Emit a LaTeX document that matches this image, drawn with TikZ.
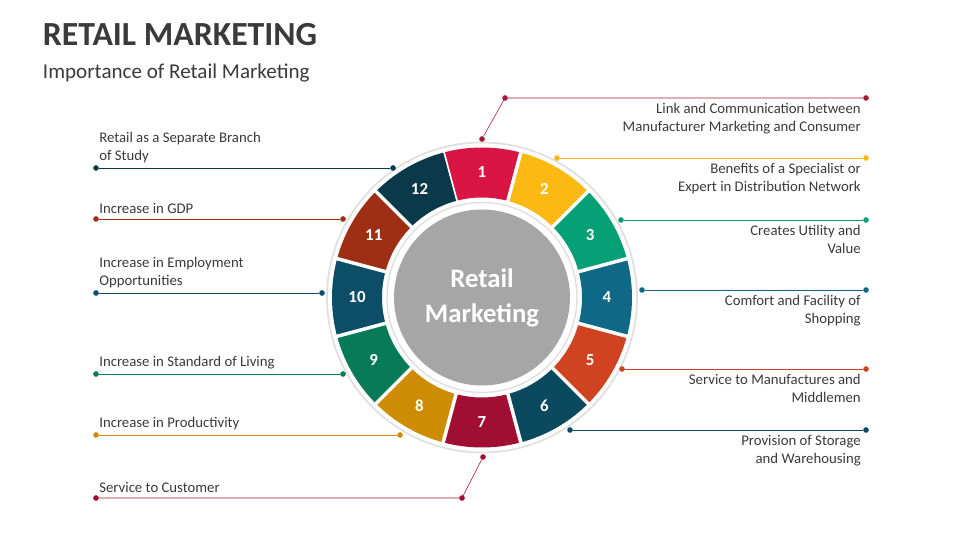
\documentclass[tikz,border=0pt]{standalone}
\usepackage{fontspec}
\setmainfont{Carlito}
\usetikzlibrary{calc}
\definecolor{c1}{HTML}{D81543}
\definecolor{c2}{HTML}{FDB913}
\definecolor{c3}{HTML}{06A077}
\definecolor{c4}{HTML}{0E6886}
\definecolor{c5}{HTML}{D04320}
\definecolor{c6}{HTML}{0B4A5E}
\definecolor{c7}{HTML}{A10E33}
\definecolor{c8}{HTML}{CD8C04}
\definecolor{c9}{HTML}{077A58}
\definecolor{c10}{HTML}{0C4D68}
\definecolor{c11}{HTML}{9E2F15}
\definecolor{c12}{HTML}{0A3A4A}
\definecolor{l1}{HTML}{A8173C}
\definecolor{txt}{HTML}{3A3A3A}
\tikzset{
  lbl/.style={font=\fontsize{10.5}{13}\selectfont,text=txt,inner sep=0pt},
  num/.style={font=\bfseries\fontsize{12}{12}\selectfont,text=white},
  dot/.style={circle,inner sep=0pt,minimum size=4pt},
}
\begin{document}
\begin{tikzpicture}[x=0.025cm,y=0.025cm]
\useasboundingbox (0,0) rectangle (960,540);

%title
\node[anchor=west,font=\bfseries\fontsize{24}{24}\selectfont,text=txt] (title) at (38,505) {RETAIL MARKETING};
\node[anchor=west,font=\fontsize{15}{15}\selectfont,text=txt] (sub) at (38,467) {Importance of Retail Marketing};

%ring
\coordinate (o) at (482,242.5);
\draw[gray!25,line width=1.2pt] (o) circle (155);
\foreach \i in {1,...,12}{
  \pgfmathsetmacro{\a}{90-30*(\i-1)}
  \fill[c\i] ($(o)+(\a-15:150)$) arc (\a-15:\a+15:150) -- ($(o)+(\a+15:100)$) arc (\a+15:\a-15:100) -- cycle;
  \draw[white,line width=2.5pt] ($(o)+(\a+15:98)$) -- ($(o)+(\a+15:152)$);
  \node[num] (n\i) at ($(o)+(\a:125)$) {\i};
}
\draw[gray!25,line width=1pt] (o) circle (95);
\fill[gray!70] (o) circle (88);
\node[font=\bfseries\fontsize{19}{25}\selectfont,text=white,align=center] (centre) at (o) {Retail\\Marketing};

%right side
\foreach \i/\px/\py/\t in {
  2/557/382/{Benefits of a Specialist or\\Expert in Distribution Network},
  3/621/320/{Creates Utility and\\Value},
  4/642/250/{Comfort and Facility of\\Shopping},
  5/622/171/{Service to Manufactures and\\Middlemen},
  6/570/110/{Provision of Storage\\and Warehousing}}{
  \node[dot,fill=c\i] (a\i) at (\px,\py) {};
  \node[dot,fill=c\i] (b\i) at (866,\py) {};
  \draw[c\i,thin] (a\i) -- (b\i);
  \node[lbl,anchor=north east,align=right] (t\i) at (861,\py-5) {\t};
}
\node[dot,fill=l1] (a1) at (482,401) {};
\coordinate (k1) at (505,442);
\node[dot,fill=l1] (b1) at (866,442) {};
\draw[l1,thin] (a1) -- (k1) -- (b1);
\fill[l1] (k1) circle (2pt);
\node[lbl,anchor=north east,align=right] (t1) at (861,437) {Link and Communication between\\Manufacturer Marketing and Consumer};

%left side
\foreach \i/\px/\py/\t in {
  12/393/372/{Retail as a Separate Branch\\of Study},
  11/343/321/{Increase in GDP},
  10/322/247/{Increase in Employment\\Opportunities},
  9/343/166/{Increase in Standard of Living},
  8/400/105/{Increase in Productivity}}{
  \node[dot,fill=c\i] (a\i) at (\px,\py) {};
  \node[dot,fill=c\i] (b\i) at (96,\py) {};
  \draw[c\i,thin] (a\i) -- (b\i);
  \node[lbl,anchor=south west,align=left] (t\i) at (99,\py+5) {\t};
}
\node[dot,fill=c7] (a7) at (483,83) {};
\coordinate (k7) at (462,42);
\node[dot,fill=c7] (b7) at (96,42) {};
\draw[c7,thin] (a7) -- (k7) -- (b7);
\fill[c7] (k7) circle (2pt);
\node[lbl,anchor=south west] (t7) at (99,47) {Service to Customer};
\end{tikzpicture}
\end{document}
